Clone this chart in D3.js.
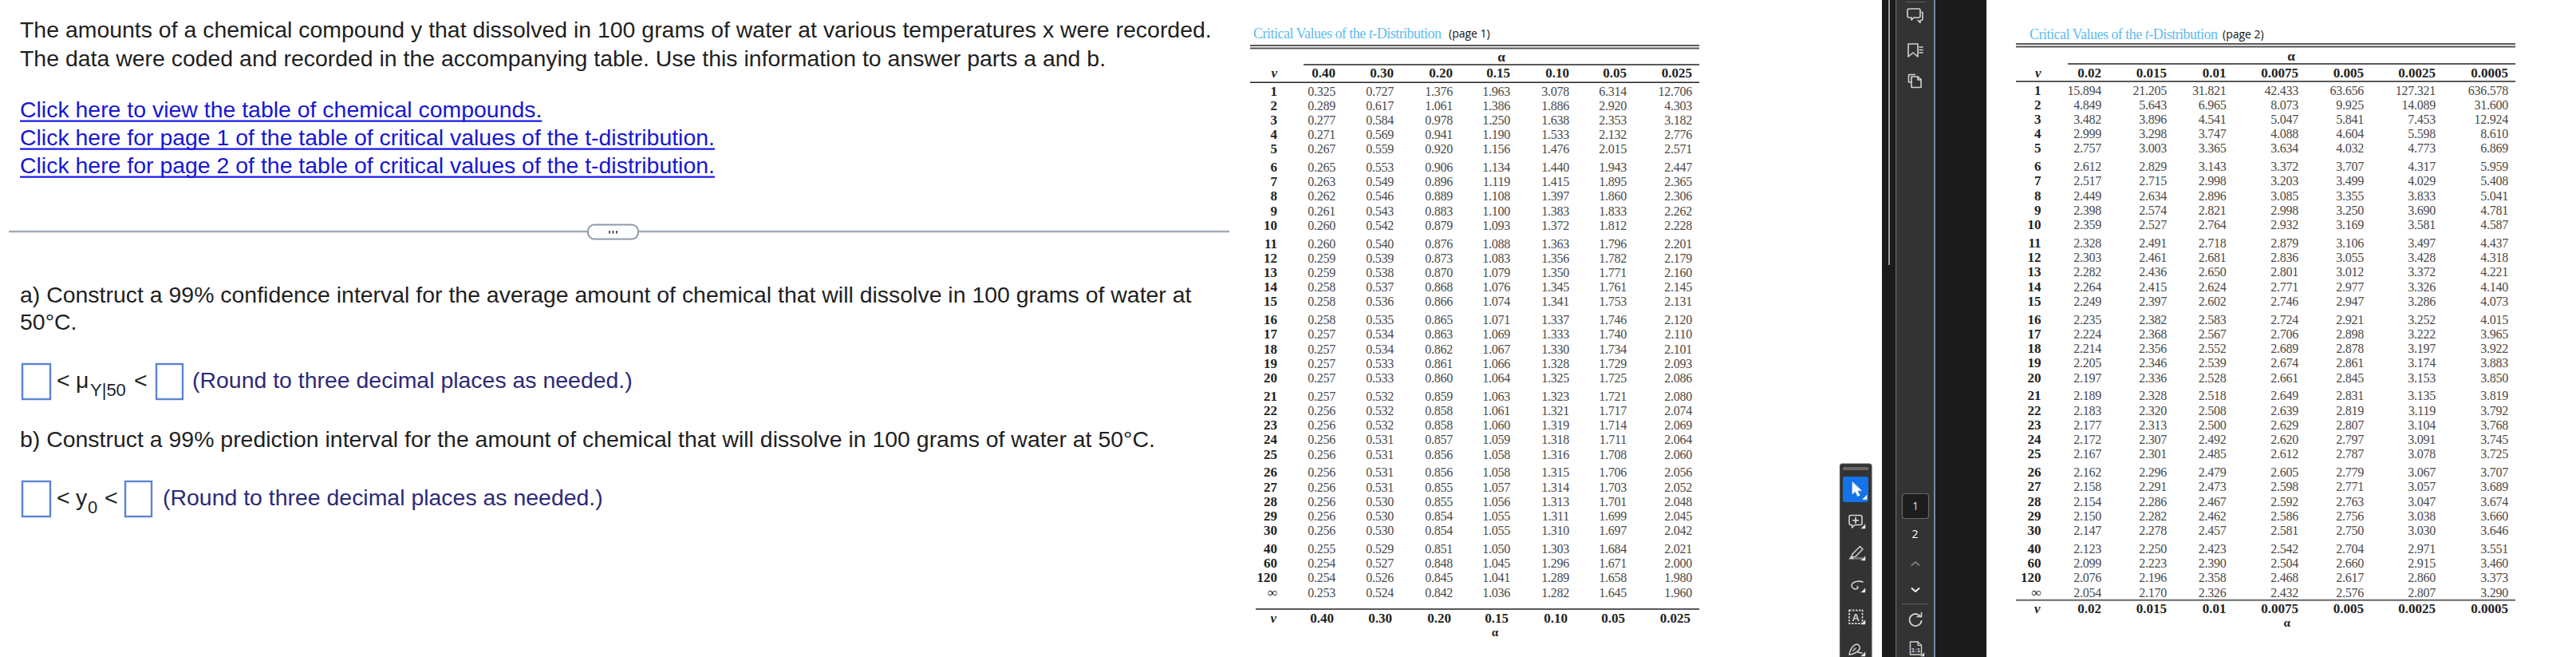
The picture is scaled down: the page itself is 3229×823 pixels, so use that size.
<!DOCTYPE html>
<html><head><meta charset="utf-8">
<script src="https://cdn.jsdelivr.net/npm/d3@7"></script>
<style>html,body{margin:0;padding:0;background:#fff;overflow:hidden}svg{display:block}</style>
</head><body><div id="c"></div>
<script>
// ---------- data ----------
const dfLabels=["1","2","3","4","5","6","7","8","9","10","11","12","13","14","15","16","17","18","19","20","21","22","23","24","25","26","27","28","29","30","40","60","120","∞"];
const alphaPage1=["0.40","0.30","0.20","0.15","0.10","0.05","0.025"];
const alphaPage2=["0.02","0.015","0.01","0.0075","0.005","0.0025","0.0005"];
const t040="0.325 0.289 0.277 0.271 0.267 0.265 0.263 0.262 0.261 0.260 0.260 0.259 0.259 0.258 0.258 0.258 0.257 0.257 0.257 0.257 0.257 0.256 0.256 0.256 0.256 0.256 0.256 0.256 0.256 0.256 0.255 0.254 0.254 0.253".split(" ");
const t030="0.727 0.617 0.584 0.569 0.559 0.553 0.549 0.546 0.543 0.542 0.540 0.539 0.538 0.537 0.536 0.535 0.534 0.534 0.533 0.533 0.532 0.532 0.532 0.531 0.531 0.531 0.531 0.530 0.530 0.530 0.529 0.527 0.526 0.524".split(" ");
const t020="1.376 1.061 0.978 0.941 0.920 0.906 0.896 0.889 0.883 0.879 0.876 0.873 0.870 0.868 0.866 0.865 0.863 0.862 0.861 0.860 0.859 0.858 0.858 0.857 0.856 0.856 0.855 0.855 0.854 0.854 0.851 0.848 0.845 0.842".split(" ");
const t015="1.963 1.386 1.250 1.190 1.156 1.134 1.119 1.108 1.100 1.093 1.088 1.083 1.079 1.076 1.074 1.071 1.069 1.067 1.066 1.064 1.063 1.061 1.060 1.059 1.058 1.058 1.057 1.056 1.055 1.055 1.050 1.045 1.041 1.036".split(" ");
const t010="3.078 1.886 1.638 1.533 1.476 1.440 1.415 1.397 1.383 1.372 1.363 1.356 1.350 1.345 1.341 1.337 1.333 1.330 1.328 1.325 1.323 1.321 1.319 1.318 1.316 1.315 1.314 1.313 1.311 1.310 1.303 1.296 1.289 1.282".split(" ");
const t005="6.314 2.920 2.353 2.132 2.015 1.943 1.895 1.860 1.833 1.812 1.796 1.782 1.771 1.761 1.753 1.746 1.740 1.734 1.729 1.725 1.721 1.717 1.714 1.711 1.708 1.706 1.703 1.701 1.699 1.697 1.684 1.671 1.658 1.645".split(" ");
const t0025="12.706 4.303 3.182 2.776 2.571 2.447 2.365 2.306 2.262 2.228 2.201 2.179 2.160 2.145 2.131 2.120 2.110 2.101 2.093 2.086 2.080 2.074 2.069 2.064 2.060 2.056 2.052 2.048 2.045 2.042 2.021 2.000 1.980 1.960".split(" ");
const t002="15.894 4.849 3.482 2.999 2.757 2.612 2.517 2.449 2.398 2.359 2.328 2.303 2.282 2.264 2.249 2.235 2.224 2.214 2.205 2.197 2.189 2.183 2.177 2.172 2.167 2.162 2.158 2.154 2.150 2.147 2.123 2.099 2.076 2.054".split(" ");
const t0015="21.205 5.643 3.896 3.298 3.003 2.829 2.715 2.634 2.574 2.527 2.491 2.461 2.436 2.415 2.397 2.382 2.368 2.356 2.346 2.336 2.328 2.320 2.313 2.307 2.301 2.296 2.291 2.286 2.282 2.278 2.250 2.223 2.196 2.170".split(" ");
const t001="31.821 6.965 4.541 3.747 3.365 3.143 2.998 2.896 2.821 2.764 2.718 2.681 2.650 2.624 2.602 2.583 2.567 2.552 2.539 2.528 2.518 2.508 2.500 2.492 2.485 2.479 2.473 2.467 2.462 2.457 2.423 2.390 2.358 2.326".split(" ");
const t00075="42.433 8.073 5.047 4.088 3.634 3.372 3.203 3.085 2.998 2.932 2.879 2.836 2.801 2.771 2.746 2.724 2.706 2.689 2.674 2.661 2.649 2.639 2.629 2.620 2.612 2.605 2.598 2.592 2.586 2.581 2.542 2.504 2.468 2.432".split(" ");
const t0005="63.656 9.925 5.841 4.604 4.032 3.707 3.499 3.355 3.250 3.169 3.106 3.055 3.012 2.977 2.947 2.921 2.898 2.878 2.861 2.845 2.831 2.819 2.807 2.797 2.787 2.779 2.771 2.763 2.756 2.750 2.704 2.660 2.617 2.576".split(" ");
const t00025="127.321 14.089 7.453 5.598 4.773 4.317 4.029 3.833 3.690 3.581 3.497 3.428 3.372 3.326 3.286 3.252 3.222 3.197 3.174 3.153 3.135 3.119 3.104 3.091 3.078 3.067 3.057 3.047 3.038 3.030 2.971 2.915 2.860 2.807".split(" ");
const t00005="636.578 31.600 12.924 8.610 6.869 5.959 5.408 5.041 4.781 4.587 4.437 4.318 4.221 4.140 4.073 4.015 3.965 3.922 3.883 3.850 3.819 3.792 3.768 3.745 3.725 3.707 3.689 3.674 3.660 3.646 3.551 3.460 3.373 3.290".split(" ");
const page1Columns=[t040,t030,t020,t015,t010,t005,t0025];
const page2Columns=[t002,t0015,t001,t00075,t0005,t00025,t00005];
const introLines=["The amounts of a chemical compound y that dissolved in 100 grams of water at various temperatures x were recorded.","The data were coded and recorded in the accompanying table. Use this information to answer parts a and b."];
const linkLines=["Click here to view the table of chemical compounds.","Click here for page 1 of the table of critical values of the t-distribution.","Click here for page 2 of the table of critical values of the t-distribution."];
const partA=["a) Construct a 99% confidence interval for the average amount of chemical that will dissolve in 100 grams of water at","50°C."];
const partB="b) Construct a 99% prediction interval for the amount of chemical that will dissolve in 100 grams of water at 50°C.";
const roundNote="(Round to three decimal places as needed.)";

// ---------- setup ----------
const svg=d3.select("#c").append("svg").attr("width",3229).attr("height",823).attr("viewBox","0 0 3229 823");
const SANS="'Liberation Sans',Arial,sans-serif", SERIF="'Liberation Serif',serif";
const FS=28.45;
function text(g,x,y,s,o={}){
  return g.append("text").attr("x",x).attr("y",y).text(s)
    .attr("font-family",o.ff||SANS).attr("font-size",o.fs||FS).attr("fill",o.fill||"#1f1f1f")
    .attr("font-weight",o.fw||null).attr("font-style",o.fst||null)
    .attr("text-anchor",o.a||"start").attr("letter-spacing",o.ls||null);
}
function line(g,x1,x2,y,c,w){g.append("line").attr("x1",x1).attr("x2",x2).attr("y1",y).attr("y2",y).attr("stroke",c).attr("stroke-width",w);}

// ---------- question text ----------
const q=svg.append("g");
introLines.forEach((s,i)=>text(q,25,47.3+i*35.2,s));
linkLines.forEach((s,i)=>{
  const y=147+i*35;
  const t=text(q,25,y,s,{fill:"#1717d2"});
  const w=t.node().getComputedTextLength();
  line(q,25,25+w,y+4.6,"#1a1ae6",2.2);
});
line(q,11,736,290,"#a3abb8",2.6);
line(q,801,1541,290,"#a3abb8",2.6);
q.append("rect").attr("x",737).attr("y",281.5).attr("width",63).attr("height",18).attr("rx",8).attr("fill","#fff").attr("stroke","#8f99a8").attr("stroke-width",2);
[-4.5,0,4.5].forEach(d=>q.append("rect").attr("x",768.5+d-0.8).attr("y",289).attr("width",1.6).attr("height",3.6).attr("fill","#333"));
partA.forEach((s,i)=>text(q,25,379+i*34.2,s));
text(q,25,559.5,partB);

function box(x,y,w,h){q.append("rect").attr("x",x).attr("y",y).attr("width",w).attr("height",h).attr("fill","#fff").attr("stroke","#5b84d6").attr("stroke-width",2.4);}
box(28,456,35,44);
text(q,71,486,"<");
text(q,95,486,"μ");
text(q,113,496,"Y|50",{fs:22});
text(q,168,486,"<");
box(196,456,33,44);
text(q,241,486,roundNote,{fill:"#2c2a78"});
box(28,603,35,44);
text(q,71,632.5,"<");
text(q,95,632.5,"y");
text(q,110,642.5,"0",{fs:22});
text(q,131,632.5,"<");
box(157,603,33,44);
text(q,204,632.5,roundNote,{fill:"#2c2a78"});

// ---------- t tables ----------
function drawTable(o){
  const g=svg.append("g");
  const pos=i=>i+ (4.6/18.2)*Math.floor(i/5);
  const y=d3.scaleLinear().domain([0,pos(33)]).range([o.yFirst,742]);
  const x=d3.scaleOrdinal().domain(o.alphas).range(o.right);
  const t=text(g,o.titleX,o.titleY,"Critical Values of the ",{ff:SERIF,fs:18,fill:"#5cbcf2"});
  t.append("tspan").attr("font-style","italic").text("t");
  t.append("tspan").text("-Distribution");
  t.attr("textLength",o.titleW).attr("lengthAdjust","spacing");
  text(g,o.pageX,o.titleY-1,o.page,{ff:"'Open Sans',sans-serif",fs:14,fill:"#111"});
  line(g,o.left,o.end,o.rule1,"#222",1.6);
  line(g,o.left,o.end,o.rule1+3.5,"#555",1.8);
  line(g,o.hdrLeft,o.end,o.rule2,"#222",1.5);
  line(g,o.left,o.end,o.rule3,"#222",1.6);
  line(g,o.botLeft,o.end,o.ruleBot,o.botColor,o.botW);
  text(g,o.alphaX,o.rule2-4,"α",{ff:SERIF,fs:17,fw:"bold",a:"middle",fill:"#222"});
  text(g,o.alphaX2,o.alphaY2,"α",{ff:SERIF,fs:15,fw:"bold",a:"middle",fill:"#222"});
  const hdr={ff:SERIF,fs:17,fw:"bold",a:"end",fill:"#222"};
  text(g,o.vX,o.hdrY,"v",{...hdr,fst:"italic"});
  text(g,o.vX-1,o.footY,"v",{...hdr,fst:"italic"});
  g.selectAll("text.h").data(o.alphas).enter().append("text").attr("class","h")
    .attr("x",a=>x(a)).attr("y",o.hdrY).text(a=>a)
    .attr("font-family",SERIF).attr("font-size",17).attr("font-weight","bold").attr("text-anchor","end").attr("fill","#222");
  g.selectAll("text.f").data(o.alphas).enter().append("text").attr("class","f")
    .attr("x",a=>x(a)-o.footShift).attr("y",o.footY).text(a=>a)
    .attr("font-family",SERIF).attr("font-size",17).attr("font-weight","bold").attr("text-anchor","end").attr("fill","#222");
  g.selectAll("text.df").data(dfLabels).enter().append("text").attr("class","df")
    .attr("x",o.dfX).attr("y",(d,i)=>y(pos(i))+5.5).text(d=>d)
    .attr("font-family",SERIF).attr("font-size",17).attr("font-weight","bold").attr("text-anchor","end").attr("fill","#222");
  o.columns.forEach((col,c)=>{
    g.append("g").selectAll("text").data(col).enter().append("text")
      .attr("x",x(o.alphas[c])).attr("y",(d,i)=>y(pos(i))+5.5).text(d=>d)
      .attr("font-family",SERIF).attr("font-size",16).attr("letter-spacing","-0.25px").attr("text-anchor","end").attr("fill","#4a4a4a");
  });
}
drawTable({alphas:alphaPage1,columns:page1Columns,right:[1674,1747,1821,1893,1967,2039,2121],yFirst:114,
  titleX:1571,titleY:48,titleW:236,pageX:1816,page:"(page 1)",left:1567,end:2130,rule1:57,hdrLeft:1634,rule2:81,rule3:103.3,
  botLeft:1574,ruleBot:763,botColor:"#222",botW:1.6,alphaX:1882,alphaX2:1874,alphaY2:796.5,hdrY:97,footY:779.5,footShift:2,vX:1601,dfX:1601});
drawTable({alphas:alphaPage2,columns:page2Columns,right:[2634,2716,2790.5,2881,2963,3053,3144],yFirst:113,
  titleX:2544,titleY:49,titleW:236,pageX:2786,page:"(page 2)",left:2527,end:3153,rule1:55,hdrLeft:2592,rule2:80,rule3:102,
  botLeft:2527,ruleBot:751.7,botColor:"#666",botW:2,alphaX:2872,alphaX2:2866.6,alphaY2:785,hdrY:96.5,footY:768,footShift:0,vX:2558.6,dfX:2558.6});

// ---------- viewer chrome ----------
const ui=svg.append("g");
function r(x,y,w,h,f,o={}){return ui.append("rect").attr("x",x).attr("y",y).attr("width",w).attr("height",h).attr("fill",f).attr("rx",o.rx||0).attr("stroke",o.s||null).attr("stroke-width",o.sw||null);}
function p(d,o={}){return ui.append("path").attr("d",d).attr("fill",o.f||"none").attr("stroke",o.s===undefined?"#d2d2d2":o.s).attr("stroke-width",o.w||1.6).attr("stroke-linejoin","round").attr("stroke-linecap","round");}
r(2359,0,131,823,"#1b1b1b");
r(2376.5,0,48.5,823,"#333");
r(2376,0,1.2,823,"#6a6a6a");
r(2424.2,0,1.6,823,"#86a4c4");
r(2367,0,2,332,"#9a9a9a");
r(2389,2,24,.8,"#6a6a6a");
// comments
p("M2393 11h12a2 2 0 0 1 2 2v7a2 2 0 0 1-2 2h-6l-3 3v-3h-3a2 2 0 0 1-2-2v-7a2 2 0 0 1 2-2z");
p("M2409 15a1.500 1.500 0 0 1 1 1.500v7a2 2 0 0 1-2 2h-1v3l-3-3");
// bookmarks
p("M2392 55h12v16l-6-5-6 5z");
p("M2406 59h4M2406 62.500h4M2406 66h4");
// pages
p("M2396 96v13.500h12v-10l-4-3.500z");
p("M2404 96v4h4");
p("M2396 103h-3.500v-9.500h8");
// page switcher
r(2384.5,618.5,33,31,"#1d1d1d",{rx:3,s:"#666",sw:1.2});
text(ui,2401,638.5,"1",{ff:"'Open Sans',sans-serif",fs:14,a:"middle",fill:"#ddd"});
text(ui,2400.5,674,"2",{ff:"'Open Sans',sans-serif",fs:14,a:"middle",fill:"#fff"});
p("M2396.500 708l4.500-4 4.500 4",{s:"#777",w:2});
p("M2396.500 737l4.500 4 4.500-4",{s:"#eee",w:2});
r(2384,756.2,33,.9,"#666");
p("M2407.500 772.500a7.500 7.500 0 1 0 1 5.500",{w:1.8});
p("M2403 772.500h5.500v-5",{w:1.6});
p("M2394.500 804h9.500l4.500 4.500v11.500h-14z",{w:1.4});
p("M2404 804v4.500h4.500",{w:1.2});
text(ui,2401.5,816.500,"1:1",{ff:SANS,fs:8,fw:"bold",a:"middle",fill:"#ddd"});
p("M2408 822h4v-4z",{f:"#eee",s:"#eee",w:.4});
// floating tools
r(2306.5,581,39.5,270,"#333",{rx:3,s:"#505050",sw:1.2});
r(2310,585,32,4,"#666",{rx:1});
r(2310,597,32,32,"#1473e6",{rx:3});
p("M2322 604v15l3.600-3.400 3 6 2.600-1.300-3-5.700h5z",{f:"#fff",s:"#fff",w:.6});
p("M2335 625.500h5v-5z",{f:"#fff",s:"#fff",w:.5});
// add comment
p("M2320 645.500h12a2 2 0 0 1 2 2v8a2 2 0 0 1-2 2h-7l-3.500 3.500v-3.500h-1.500a2 2 0 0 1-2-2v-8a2 2 0 0 1 2-2z");
p("M2326 648.500v6.500M2322.800 651.800h6.500",{w:1.8});
// highlighter
p("M2322 694l9.500-9.500 3.500 3.500-9.500 9.500-4.500 .5z",{w:1.5});
p("M2318 700l3-4 3 4z",{f:"#d2d2d2",s:"#d2d2d2",w:.5});
r(2325,698,10,2.800,"#777");
// lasso
p("M2335 729a8.500 5 0 1 0 -10 9 c3 0 5 -1 3 -3.500",{w:1.6});
// text select
r(2318,764.5,16.500,16.500,"none",{s:"#d2d2d2",sw:1.8}).attr("stroke-dasharray","2.400 1.600");
text(ui,2326.3,778,"A",{ff:SANS,fs:13,fw:"bold",a:"middle",fill:"#d2d2d2"});
// signature
p("M2318 820c1-7 5-12 9-13 3 0 5 3 4 6-2 3-7 6-12 7z M2323 815l3-3 M2329 817c2 1 3 0 5 1",{w:1.5});
[662,702,742,782,822].forEach(yy=>p(`M2333 ${yy}h5v-5z`,{f:"#eee",s:"#eee",w:.4}));
</script></body></html>
